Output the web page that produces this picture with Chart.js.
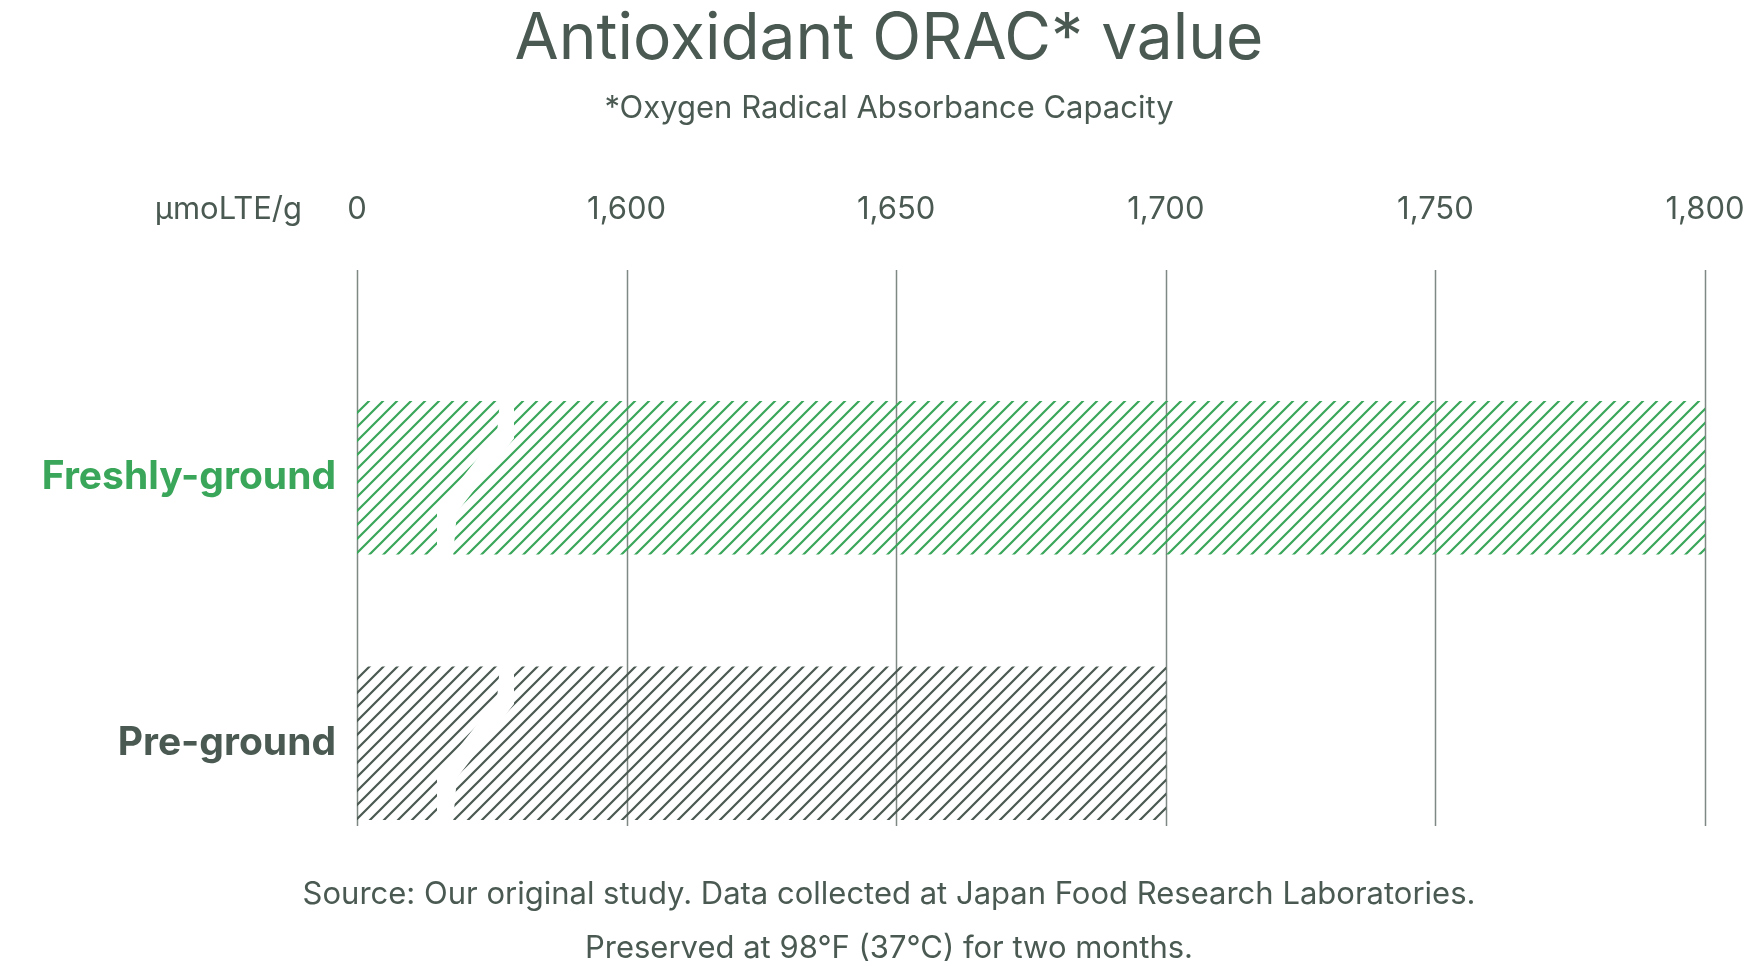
<!DOCTYPE html>
<html>
<head>
<meta charset="utf-8">
<script src="https://cdn.jsdelivr.net/npm/chart.js@4"></script>
<style>
  body { margin: 0; background: #fff; }
  #wrap { width: 1750px; height: 966px; }
</style>
</head>
<body>
<div id="wrap"><canvas id="chart"></canvas></div>
<script>
// data
const categories = ['Freshly-ground', 'Pre-ground'];
const oracValues = [1800, 1700];
const tickValues = [1550, 1600, 1650, 1700, 1750, 1800];
const tickLabels = ['0', '1,600', '1,650', '1,700', '1,750', '1,800'];
const catColors = ['#3aa65a', '#4a5a52'];

const FONT = 'Inter, "Noto Sans", sans-serif';
const GRID = '#7f8984';

function hatch(color) {
    const c = document.createElement('canvas');
    c.width = 14; c.height = 14;
    const g = c.getContext('2d');
    g.strokeStyle = color;
    g.lineWidth = 2.2;
    g.beginPath();
    g.moveTo(-2, 16); g.lineTo(16, -2);
    g.moveTo(-2, 2); g.lineTo(2, -2);
    g.moveTo(12, 16); g.lineTo(16, 12);
    g.stroke();
    return g.createPattern(c, 'repeat');
}

const decor = {
    id: 'decor',
    beforeDatasetsDraw(chart) {
        const ctx = chart.ctx;
        const x = chart.scales.x;
        ctx.save();
        ctx.strokeStyle = GRID;
        ctx.lineWidth = 1.5;
        tickValues.forEach(v => {
            const px = Math.round(x.getPixelForValue(v)) + 0.5;
            ctx.beginPath();
            ctx.moveTo(px, 270); ctx.lineTo(px, 826);
            ctx.stroke();
        });
        ctx.restore();
    },
    afterDatasetsDraw(chart) {
        const ctx = chart.ctx;
        const x = chart.scales.x;
        const y = chart.scales.y;
        const x0 = x.getPixelForValue(1550);
        ctx.save();
        // axis break gap
        chart.getDatasetMeta(0).data.forEach(bar => {
            const top = bar.y - bar.height / 2 - 2;
            const bot = bar.y + bar.height / 2 + 2;
            const h = bot - top;
            ctx.fillStyle = '#fff';
            ctx.beginPath();
            ctx.moveTo(x0 + 143, top);
            ctx.lineTo(x0 + 157, top);
            ctx.lineTo(x0 + 157, top + h * 0.25);
            ctx.lineTo(x0 + 100, top + h * 0.72);
            ctx.lineTo(x0 + 96, bot);
            ctx.lineTo(x0 + 80, bot);
            ctx.lineTo(x0 + 80, top + h * 0.7);
            ctx.lineTo(x0 + 140, top + h * 0.22);
            ctx.closePath();
            ctx.fill();
        });
        // texts
        ctx.textAlign = 'center';
        ctx.textBaseline = 'middle';
        ctx.fillStyle = '#4a5a52';
        ctx.font = '64px ' + FONT;
        ctx.fillText('Antioxidant ORAC* value', 889, 40);
        ctx.font = '31px ' + FONT;
        ctx.fillText('*Oxygen Radical Absorbance Capacity', 889, 109);
        ctx.font = '31px ' + FONT;
        ctx.fillText('Source: Our original study. Data collected at Japan Food Research Laboratories.', 889, 895);
        ctx.fillText('Preserved at 98°F (37°C) for two months.', 889, 949);
        tickValues.forEach((v, i) => {
            ctx.fillText(tickLabels[i], x.getPixelForValue(v), 210);
        });
        ctx.textAlign = 'right';
        ctx.fillText('µmoLTE/g', 302, 210);
        ctx.font = 'bold 39px ' + FONT;
        categories.forEach((c, i) => {
            ctx.fillStyle = catColors[i];
            ctx.fillText(c, 336, y.getPixelForValue(i));
        });
        ctx.restore();
    }
};

new Chart(document.getElementById('chart'), {
    type: 'bar',
    data: {
        labels: categories,
        datasets: [{
            data: oracValues,
            backgroundColor: [hatch(catColors[0]), hatch(catColors[1])],
            borderWidth: 0,
            barThickness: 153,
            base: 1550
        }]
    },
    options: {
        indexAxis: 'y',
        responsive: true,
        maintainAspectRatio: false,
        animation: false,
        layout: { padding: { left: 357, right: 45, top: 345, bottom: 90 } },
        plugins: { legend: { display: false }, tooltip: { enabled: false } },
        scales: {
            x: {
                type: 'linear', min: 1550, max: 1800,
                display: false
            },
            y: { display: false }
        }
    },
    plugins: [decor]
});
</script>
</body>
</html>
